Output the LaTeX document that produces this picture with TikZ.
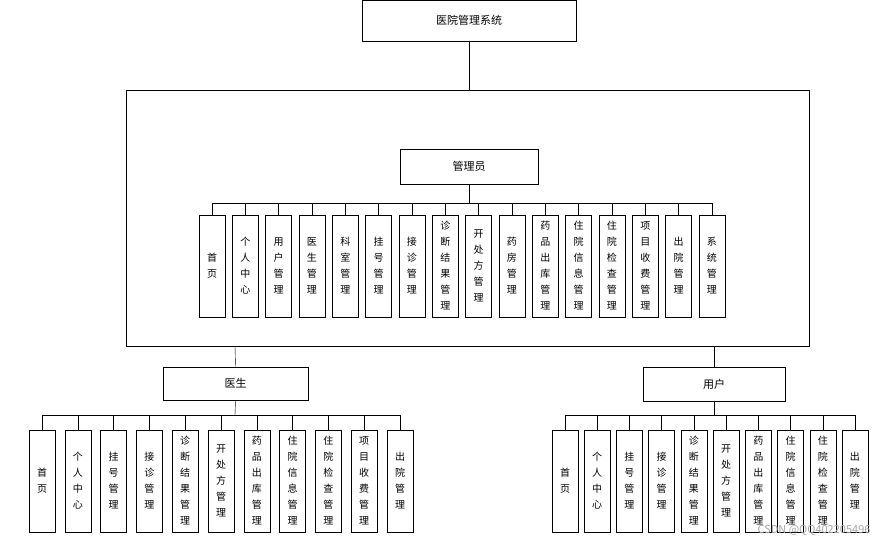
\documentclass[tikz,border=0pt]{standalone}
\usepackage{fontspec}
\setmainfont{Noto Sans CJK SC}
\begin{document}
\begin{tikzpicture}[x=1pt,y=-1pt,
  box/.style={draw,thick,inner sep=0pt},
  vb/.style={draw,inner sep=0pt,minimum width=26pt,minimum height=102pt,align=center,font=\fontsize{10}{16}\selectfont},
  hb/.style={draw,inner sep=0pt,font=\fontsize{11}{13}\selectfont},
  ln/.style={draw}]
\useasboundingbox (0,0) rectangle (889,548);
\node[hb,minimum width=214pt,minimum height=41pt] (top) at (469,20.5) {医院管理系统};
\draw (126,90) rectangle (809,346);
\coordinate (rt) at (469,90);
\draw (top.south) -- (rt);
\node[hb,minimum width=138pt,minimum height=35pt] (adm) at (469,166.5) {管理员};
\coordinate (ab) at (469,203);
\draw (adm.south) -- (ab);
\draw (212,203) -- (712,203);
\foreach \t [count=\i from 0] in {首\\页,个\\人\\中\\心,用\\户\\管\\理,医\\生\\管\\理,科\\室\\管\\理,挂\\号\\管\\理,接\\诊\\管\\理,诊\\断\\结\\果\\管\\理,开\\处\\方\\管\\理,药\\房\\管\\理,药\\品\\出\\库\\管\\理,住\\院\\信\\息\\管\\理,住\\院\\检\\查\\管\\理,项\\目\\收\\费\\管\\理,出\\院\\管\\理,系\\统\\管\\理}{
  \pgfmathsetmacro\xx{212+\i*33.33}
  \node[vb] (a\i) at (\xx,266) {\t};
  \coordinate (ac\i) at (\xx,203);
  \draw (ac\i) -- (a\i.north);
}
% doctor
\coordinate (d0) at (235,346);
\node[hb,minimum width=145pt,minimum height=33pt] (doc) at (235.5,383.5) {医生};
\draw (d0) -- (doc.north);
\coordinate (db) at (235,415);
\draw (doc.south) -- (db);
\draw (42,415) -- (400,415);
\foreach \t [count=\i from 0] in {首\\页,个\\人\\中\\心,挂\\号\\管\\理,接\\诊\\管\\理,诊\\断\\结\\果\\管\\理,开\\处\\方\\管\\理,药\\品\\出\\库\\管\\理,住\\院\\信\\息\\管\\理,住\\院\\检\\查\\管\\理,项\\目\\收\\费\\管\\理,出\\院\\管\\理}{
  \pgfmathsetmacro\xx{42+\i*35.8}
  \node[vb] (d\i x) at (\xx,481) {\t};
  \coordinate (dc\i) at (\xx,415);
  \draw (dc\i) -- (d\i x.north);
}
% user
\coordinate (u0) at (714,346);
\node[hb,minimum width=142pt,minimum height=34pt] (usr) at (714,384) {用户};
\draw (u0) -- (usr.north);
\coordinate (ub) at (714,415);
\draw (usr.south) -- (ub);
\draw (565,415) -- (855,415);
\foreach \t [count=\i from 0] in {首\\页,个\\人\\中\\心,挂\\号\\管\\理,接\\诊\\管\\理,诊\\断\\结\\果\\管\\理,开\\处\\方\\管\\理,药\\品\\出\\库\\管\\理,住\\院\\信\\息\\管\\理,住\\院\\检\\查\\管\\理,出\\院\\管\\理}{
  \pgfmathsetmacro\xx{565+\i*32.22}
  \node[vb] (u\i x) at (\xx,481) {\t};
  \coordinate (uc\i) at (\xx,415);
  \draw (uc\i) -- (u\i x.north);
}
\node[text=gray!70,font=\fontsize{11}{13}\selectfont,anchor=east] (wm) at (874,530) {CSDN @QQ402205496};
\end{tikzpicture}
\end{document}
